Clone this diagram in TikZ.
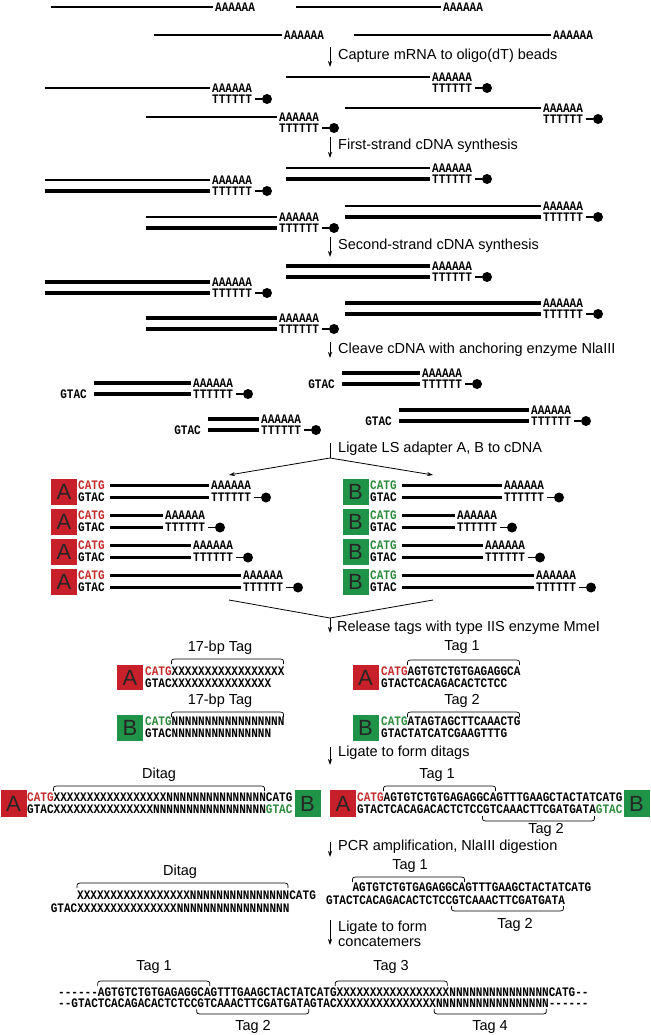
\documentclass[tikz,border=0pt]{standalone}
\usepackage{fontspec}
\setmainfont{Liberation Sans}
\newfontfamily\seqfam[FakeStretch=0.85, Ligatures=TeXOff]{Liberation Mono}
\usetikzlibrary{arrows.meta}
\definecolor{adaptA}{HTML}{C8202B}
\definecolor{adaptB}{HTML}{1F9449}
\definecolor{catgA}{HTML}{C42A2A}
\definecolor{catgB}{HTML}{2C8A3C}
\tikzset{
  seq/.style={anchor=west, inner sep=0pt, font=\seqfam\bfseries\fontsize{13}{13}\selectfont},
  steplab/.style={anchor=west, inner sep=0pt, font=\fontsize{14.5}{15}\selectfont},
  taglab/.style={inner sep=0pt, font=\fontsize{14.5}{15}\selectfont},
  rna/.style={line width=1.3pt, shorten >=2pt},
  cdna/.style={line width=3.6pt, shorten >=2pt},
  tether/.style={line width=1.2pt},
  bead/.style={circle, fill, inner sep=0pt, minimum size=10pt},
  steparrow/.style={line width=0.8pt, -{Stealth[length=6pt,width=4pt]}},
  tagbrc/.style={line width=0.7pt},
  adbox/.style={minimum width=26pt, minimum height=26pt, inner sep=0pt,
                font=\fontsize{22}{22}\selectfont, text=black!85},
  boxA/.style={adbox, fill=adaptA},
  boxB/.style={adbox, fill=adaptB},
}
% bracket over (hook 5) or under (hook -5) a run of bases
\newcommand{\tagspan}[4]{%
  \draw[tagbrc] (#1,{#3+(#4)}) .. controls (#1,#3) .. (#1+7,#3) -- (#2-7,#3)
    .. controls (#2,#3) .. (#2,{#3+(#4)});}

\begin{document}
\begin{tikzpicture}[x=1pt, y=-1pt]
  \useasboundingbox (0,0) rectangle (650,1035);

  % mRNA
  \foreach \xa/\xb/\y [count=\i] in {51/212/7, 296/440/7, 154/281/35, 354/550/35}{
    \node[seq] (mA\i) at (\xb+3,\y) {AAAAAA};
    \draw[rna] (\xa,\y) -- (mA\i.west);
  }
  \coordinate (s1a) at (330,47); \coordinate (s1b) at (330,67);
  \draw[steparrow] (s1a) -- (s1b);
  \node[steplab] (s1) at (338,56) {Capture mRNA to oligo(dT) beads};

  % captured on beads
  \foreach \xa/\xb/\y [count=\i] in {286/429/77, 45/209/88, 345/540/108, 146/276/117}{
    \node[seq] (cA\i) at (\xb+3,\y) {AAAAAA};
    \node[seq] (cT\i) at (\xb+3,\y+11) {TTTTTT};
    \node[bead] (cB\i) at (\xb+58,\y+11) {};
    \draw[rna] (\xa,\y) -- (cA\i.west);
    \draw[tether] ([xshift=3pt]cT\i.east) -- (cB\i);
  }
  \coordinate (s2a) at (330,137); \coordinate (s2b) at (330,158);
  \draw[steparrow] (s2a) -- (s2b);
  \node[steplab] (s2) at (338,146) {First-strand cDNA synthesis};

  % first strand
  \foreach \xa/\xb/\y [count=\i] in {286/429/168, 45/209/180, 345/540/206, 146/276/217}{
    \node[seq] (fA\i) at (\xb+3,\y) {AAAAAA};
    \node[seq] (fT\i) at (\xb+3,\y+11) {TTTTTT};
    \node[bead] (fB\i) at (\xb+58,\y+11) {};
    \draw[rna] (\xa,\y) -- (fA\i.west);
    \draw[cdna] (\xa,\y+11) -- (fT\i.west);
    \draw[tether] ([xshift=3pt]fT\i.east) -- (fB\i);
  }
  \coordinate (s3a) at (330,237); \coordinate (s3b) at (330,257);
  \draw[steparrow] (s3a) -- (s3b);
  \node[steplab] (s3) at (338,246) {Second-strand cDNA synthesis};

  % second strand
  \foreach \xa/\xb/\y [count=\i] in {286/429/266, 45/209/282, 345/540/303, 146/276/318}{
    \node[seq] (sA\i) at (\xb+3,\y) {AAAAAA};
    \node[seq] (sT\i) at (\xb+3,\y+11) {TTTTTT};
    \node[bead] (sB\i) at (\xb+58,\y+11) {};
    \draw[cdna] (\xa,\y) -- (sA\i.west);
    \draw[cdna] (\xa,\y+11) -- (sT\i.west);
    \draw[tether] ([xshift=3pt]sT\i.east) -- (sB\i);
  }
  \coordinate (s4a) at (330,342); \coordinate (s4b) at (330,358);
  \draw[steparrow] (s4a) -- (s4b);
  \node[steplab] (s4) at (338,350) {Cleave cDNA with anchoring enzyme NlaIII};

  % cut with NlaIII
  \foreach \xa/\xb/\y [count=\i] in {94/190/383, 342/419/373, 208/258/419, 399/528/410}{
    \node[seq, anchor=east] (nG\i) at (\xa-7,\y+11) {GTAC};
    \node[seq] (nA\i) at (\xb+3,\y) {AAAAAA};
    \node[seq] (nT\i) at (\xb+3,\y+11) {TTTTTT};
    \node[bead] (nB\i) at (\xb+58,\y+11) {};
    \draw[cdna] (\xa,\y) -- (nA\i.west);
    \draw[cdna] (\xa,\y+11) -- (nT\i.west);
    \draw[tether] ([xshift=3pt]nT\i.east) -- (nB\i);
  }
  \coordinate (s5a) at (330,443); \coordinate (fork) at (330,458);
  \coordinate (toA) at (229,475); \coordinate (toB) at (433,475);
  \draw[line width=0.8pt] (s5a) -- (fork);
  \draw[steparrow] (fork) -- (toA);
  \draw[steparrow] (fork) -- (toB);
  \node[steplab] (s5) at (338,449) {Ligate LS adapter A, B to cDNA};

  % adapters A and B
  \foreach \y/\xl/\xr [count=\i] in {486/208/501, 516/162/454, 546/190/482, 576/240/533}{
    \node[boxA] (aBox\i) at (64,\y+5.5) {A};
    \node[seq, text=catgA] (aC\i) at (78,\y-0.5) {CATG};
    \node[seq] (aG\i) at (78,\y+11.5) {GTAC};
    \node[seq] (aA\i) at (\xl+3,\y-0.5) {AAAAAA};
    \node[seq] (aT\i) at (\xl+3,\y+11.5) {TTTTTT};
    \node[bead] (aD\i) at (\xl+58,\y+11.5) {};
    \draw[cdna] ([xshift=5pt]aC\i.east) -- (aA\i.west);
    \draw[cdna] ([xshift=5pt]aG\i.east) -- (aT\i.west);
    \draw[tether] ([xshift=3pt]aT\i.east) -- (aD\i);
    \node[boxB] (bBox\i) at (355.5,\y+5.5) {B};
    \node[seq, text=catgB] (bC\i) at (370,\y-0.5) {CATG};
    \node[seq] (bG\i) at (370,\y+11.5) {GTAC};
    \node[seq] (bA\i) at (\xr+3,\y-0.5) {AAAAAA};
    \node[seq] (bT\i) at (\xr+3,\y+11.5) {TTTTTT};
    \node[bead] (bD\i) at (\xr+58,\y+11.5) {};
    \draw[cdna] ([xshift=5pt]bC\i.east) -- (bA\i.west);
    \draw[cdna] ([xshift=5pt]bG\i.east) -- (bT\i.west);
    \draw[tether] ([xshift=3pt]bT\i.east) -- (bD\i);
  }
  \coordinate (fromA) at (229,600); \coordinate (fromB) at (433,600);
  \coordinate (join) at (330,618); \coordinate (s6b) at (330,633);
  \draw[line width=0.8pt] (fromA) -- (join) -- (fromB);
  \draw[steparrow] (join) -- (s6b);
  \node[steplab] (s6) at (337,628) {Release tags with type IIS enzyme MmeI};

  % released tags
  \node[boxA, minimum height=25pt] (tA) at (130,677.5) {A};
  \node[seq] (tAtop) at (145,671) {\textcolor{catgA}{CATG}XXXXXXXXXXXXXXXXX};
  \node[seq] (tAbot) at (145,683) {GTACXXXXXXXXXXXXXXX};
  \node[taglab] (tAlab) at (220,648) {17-bp Tag};
  \tagspan{171.4}{283.6}{659}{5}
  \node[boxB] (tB) at (130,728) {B};
  \node[seq] (tBtop) at (145,721) {\textcolor{catgB}{CATG}NNNNNNNNNNNNNNNNN};
  \node[seq] (tBbot) at (145,733) {GTACNNNNNNNNNNNNNNN};
  \node[taglab] (tBlab) at (220,701) {17-bp Tag};
  \tagspan{171.4}{283.6}{712}{5}

  \node[boxA, minimum height=25pt] (uA) at (365.5,677.5) {A};
  \node[seq] (uAtop) at (381,671) {\textcolor{catgA}{CATG}AGTGTCTGTGAGAGGCA};
  \node[seq] (uAbot) at (381,683) {GTACTCACAGACACTCTCC};
  \node[taglab] (uAlab) at (462,647) {Tag 1};
  \tagspan{407.4}{519.6}{660}{5}
  \node[boxB] (uB) at (365.5,728) {B};
  \node[seq] (uBtop) at (381,721) {\textcolor{catgB}{CATG}ATAGTAGCTTCAAACTG};
  \node[seq] (uBbot) at (381,733) {GTACTATCATCGAAGTTTG};
  \node[taglab] (uBlab) at (462,701) {Tag 2};
  \tagspan{407.4}{519.6}{712}{5}

  \coordinate (s7a) at (330,747); \coordinate (s7b) at (330,765);
  \draw[steparrow] (s7a) -- (s7b);
  \node[steplab] (s7) at (338,753) {Ligate to form ditags};

  % ditags
  \node[boxA, minimum height=27pt] (dA) at (13.5,803.5) {A};
  \node[seq] (dtop) at (27,797) {\textcolor{catgA}{CATG}XXXXXXXXXXXXXXXXXNNNNNNNNNNNNNNNCATG};
  \node[seq] (dbot) at (27,809) {GTACXXXXXXXXXXXXXXXNNNNNNNNNNNNNNNNN\textcolor{catgB}{GTAC}};
  \node[boxB, minimum height=27pt] (dB) at (307.5,803.5) {B};
  \node[taglab] (dlab) at (159,775) {Ditag};
  \tagspan{53.4}{264.6}{786}{5}

  \node[boxA, minimum height=27pt] (eA) at (343,803.5) {A};
  \node[seq] (etop) at (357,797) {\textcolor{catgA}{CATG}AGTGTCTGTGAGAGGCAGTTTGAAGCTACTATCATG};
  \node[seq] (ebot) at (357,809) {GTACTCACAGACACTCTCCGTCAAACTTCGATGATA\textcolor{catgB}{GTAC}};
  \node[boxB, minimum height=27pt] (eB) at (636.5,803.5) {B};
  \node[taglab] (eT1) at (437,775) {Tag 1};
  \tagspan{383.4}{495.6}{786}{5}
  \node[taglab] (eT2) at (546,830) {Tag 2};
  \tagspan{482.4}{594.6}{821}{-5}

  \coordinate (s8a) at (330,842); \coordinate (s8b) at (330,857);
  \draw[steparrow] (s8a) -- (s8b);
  \node[steplab] (s8) at (338,847) {PCR amplification, NlaIII digestion};

  % after PCR and NlaIII
  \node[seq] (ptop) at (77,895) {XXXXXXXXXXXXXXXXXNNNNNNNNNNNNNNNCATG};
  \node[seq] (pbot) at (50.6,908) {GTACXXXXXXXXXXXXXXXNNNNNNNNNNNNNNNNN};
  \node[taglab] (plab) at (180,872) {Ditag};
  \tagspan{77}{288}{883}{5}

  \node[seq] (qtop) at (352.4,887) {AGTGTCTGTGAGAGGCAGTTTGAAGCTACTATCATG};
  \node[seq] (qbot) at (326,900) {GTACTCACAGACACTCTCCGTCAAACTTCGATGATA};
  \node[taglab] (qT1) at (410,866) {Tag 1};
  \tagspan{352.4}{464.6}{877}{5}
  \node[taglab] (qT2) at (515,925) {Tag 2};
  \tagspan{451.4}{563.6}{911}{-5}

  \coordinate (s9a) at (330,920); \coordinate (s9b) at (330,945);
  \draw[steparrow] (s9a) -- (s9b);
  \node[steplab, align=left] (s9) at (338,934) {Ligate to form\\concatemers};

  % concatemer
  \node[seq] (ktop) at (58,992) {------AGTGTCTGTGAGAGGCAGTTTGAAGCTACTATCATGXXXXXXXXXXXXXXXXXNNNNNNNNNNNNNNNCATG--};
  \node[seq] (kbot) at (58,1003) {--GTACTCACAGACACTCTCCGTCAAACTTCGATGATAGTACXXXXXXXXXXXXXXXNNNNNNNNNNNNNNNNN------};
  \node[taglab] (kT1) at (154,967) {Tag 1};
  \tagspan{97.6}{209.8}{981}{5}
  \node[taglab] (kT3) at (391,967) {Tag 3};
  \tagspan{335.2}{447.4}{981}{5}
  \node[taglab] (kT2) at (253,1027) {Tag 2};
  \tagspan{196.6}{308.8}{1014}{-5}
  \node[taglab] (kT4) at (490,1027) {Tag 4};
  \tagspan{434.2}{546.4}{1014}{-5}
\end{tikzpicture}
\end{document}
